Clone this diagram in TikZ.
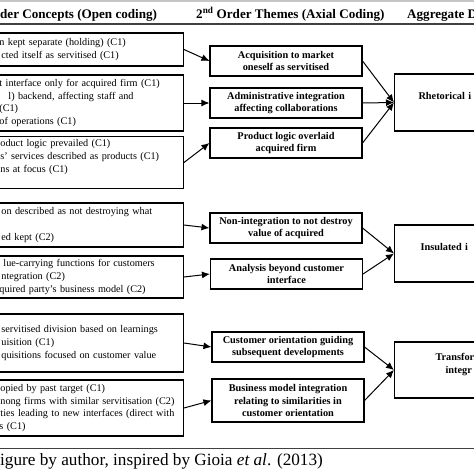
\documentclass[tikz,border=0pt]{standalone}
\usepackage{fontspec}
\setmainfont{Liberation Serif}
\usetikzlibrary{arrows.meta}
\begin{document}
\begin{tikzpicture}[x=1pt, y=-1pt,
    >={Latex[length=8pt,width=7pt]},
    concept/.style={draw, line width=1.1pt, anchor=east, text width=182pt, inner xsep=2pt, align=left, font=\fontsize{10.2}{12.8}\selectfont},
    theme/.style={draw, line width=1.1pt, minimum width=152pt, minimum height=30pt, align=center, font=\bfseries\fontsize{10.3}{12.8}\selectfont},
    dimension/.style={draw, line width=1.1pt, anchor=west, text width=92pt, inner xsep=24pt, minimum height=57pt, align=left, font=\bfseries\fontsize{10.3}{13.5}\selectfont},
    heading/.style={anchor=base west, inner sep=0pt, font=\bfseries\fontsize{13.1}{15}\selectfont},
    link/.style={->, line width=1pt}]
    \useasboundingbox (0,0) rectangle (474,474);
    \clip (0,0) rectangle (474,474);

    % Rules
    \draw[gray!45, line width=2pt] (0,1) -- (474,1);
    \draw[black!75, line width=1.5pt] (0,24) -- (474,24);
    \draw[black!75, line width=1pt] (0,448) -- (474,448);

    % Headings
    \node[heading] (h1) at (0,18) {der Concepts (Open coding)};
    \node[heading] (h2) at (196,18) {2\textsuperscript{nd} Order Themes (Axial Coding)};
    \node[heading] (h3) at (407,18) {Aggregate D};

    % First order concepts
    \node[concept, minimum height=33pt] (c1) at (184,49.5) {n kept separate (holding) (C1)\\\hspace*{2pt}cted itself as servitised (C1)};
    \node[concept, minimum height=56pt] (c2) at (184,103) {t interface only for acquired firm (C1)\\\hspace*{9pt}l) backend, affecting staff and\\(C1)\\of operations (C1)};
    \node[concept, minimum height=49pt] (c3) at (184,162.5) {\hspace*{1pt}oduct logic prevailed (C1)\\\hspace*{1pt}s’ services described as products (C1)\\\hspace*{1pt}ns at focus (C1)\\\mbox{}};
    \node[concept, minimum height=44pt] (c4) at (184,225) {\hspace*{2pt}on described as not destroying what\\\mbox{}\\\hspace*{2pt}ed kept (C2)};
    \node[concept, minimum height=42pt] (c5) at (184,277) {\hspace*{4pt}lue-carrying functions for customers\\\hspace*{2pt}ntegration (C2)\\quired party’s business model (C2)};
    \node[concept, minimum height=58pt] (c6) at (184,343) {\hspace*{2pt}servitised division based on learnings\\\hspace*{2pt}uisition (C1)\\\hspace*{2pt}quisitions focused on customer value};
    \node[concept, minimum height=56pt] (c7) at (184,408) {\hspace*{1pt}opied by past target (C1)\\\hspace*{1pt}nong firms with similar servitisation (C2)\\\hspace*{1pt}ties leading to new interfaces (direct with\\s (C1)};

    % Second order themes
    \node[theme] (t1) at (286,61) {Acquisition to market\\oneself as servitised};
    \node[theme] (t2) at (286,103) {Administrative integration\\affecting collaborations};
    \node[theme] (t3) at (286,143) {Product logic overlaid\\acquired firm};
    \node[theme] (t4) at (286,228) {Non-integration to not destroy\\value of acquired};
    \node[theme] (t5) at (286.5,274) {Analysis beyond customer\\interface};
    \node[theme] (t6) at (288,347) {Customer orientation guiding\\subsequent developments};
    \node[theme, minimum height=43pt] (t7) at (288,400.5) {Business model integration\\relating to similarities in\\customer orientation};

    % Aggregate dimensions
    \node[dimension] (d1) at (394,102.5) {Rhetorical i\\\mbox{}};
    \node[dimension] (d2) at (394,253.5) {\hspace*{2pt}Insulated i\\\mbox{}};
    \node[dimension, minimum height=56pt] (d3) at (394,370) {\hspace*{17pt}Transfor\\\hspace*{27pt}integr\\\mbox{}};

    % Arrows
    \draw[link] (c1.east) -- (t1.west);
    \draw[link] (c2.east) -- (t2.west);
    \draw[link] (c3.east) -- (t3.west);
    \draw[link] (c4.east) -- (t4.west);
    \draw[link] (c5.east) -- (t5.west);
    \draw[link] (c6.east) -- (t6.west);
    \draw[link] (c7.east) -- (t7.west);

    \draw[link] (t1.east) -- (d1.west);
    \draw[link] (t2.east) -- (d1.west);
    \draw[link] (t3.east) -- (d1.west);
    \draw[link] (t4.east) -- (d2.west);
    \draw[link] (t5.east) -- (d2.west);
    \draw[link] (t6.east) -- (d3.west);
    \draw[link] (t7.east) -- (d3.west);

    % Caption
    \node[anchor=base west, inner sep=0pt, font=\fontsize{17.2}{19}\selectfont] (src) at (0,465) {igure by author, inspired by Gioia \textit{et al}. (2013)};
\end{tikzpicture}
\end{document}
